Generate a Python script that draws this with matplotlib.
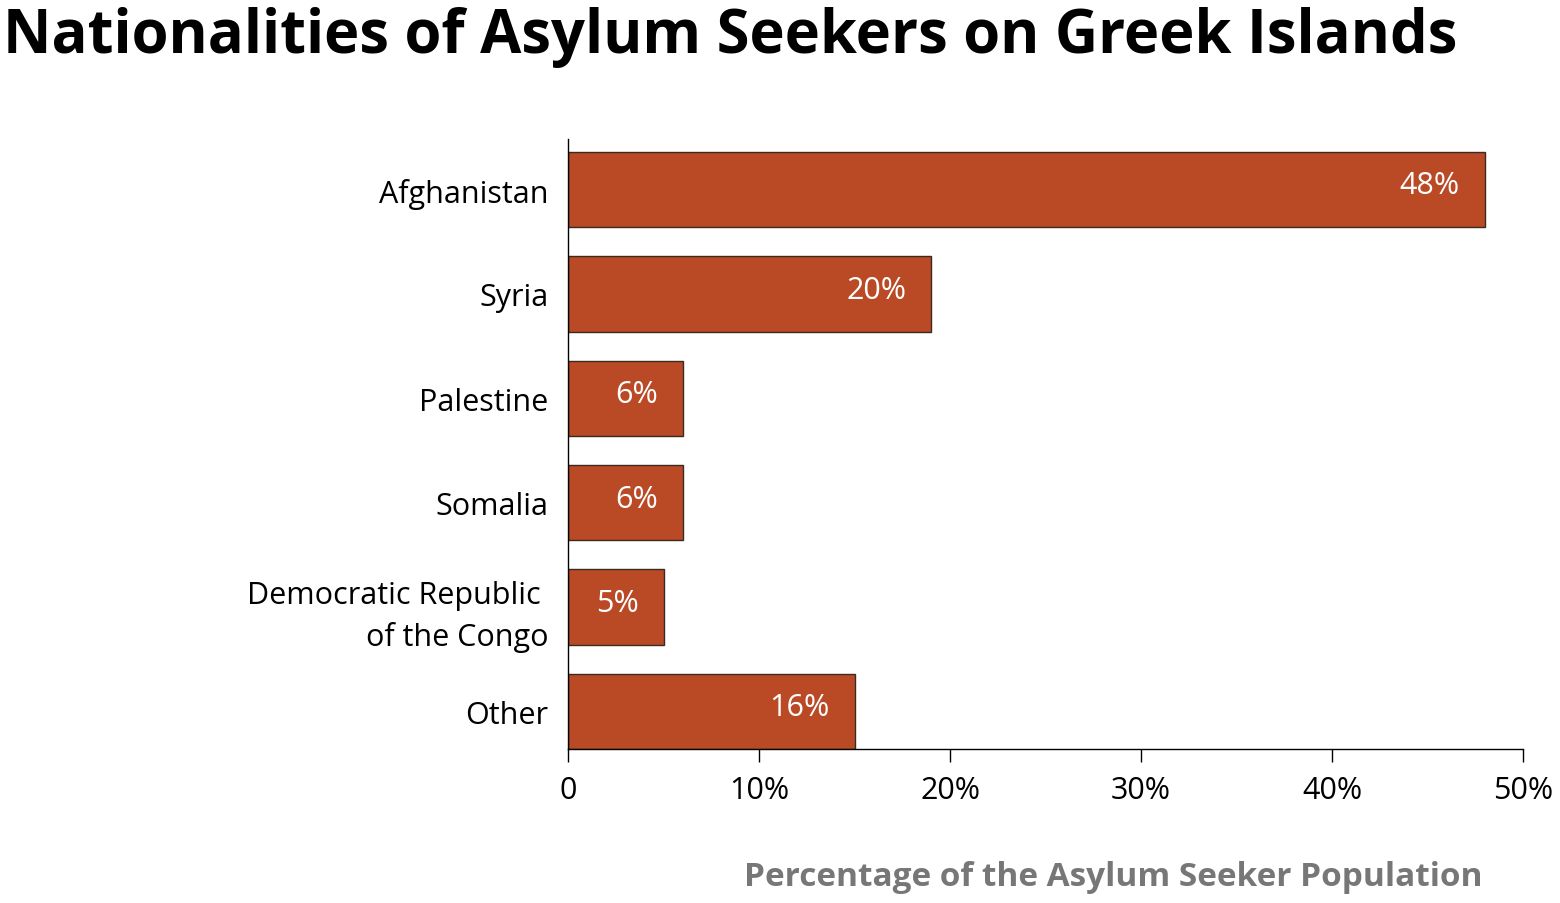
import matplotlib
matplotlib.use("Agg")
import matplotlib.pyplot as plt

categories = ["Afghanistan", "Syria", "Palestine", "Somalia", "Democratic Republic \nof the Congo", "Other"]
values = [48, 19, 6, 6, 5, 15]
labels = ["48%", "20%", "6%", "6%", "5%", "16%"]
ticks = [0, 10, 20, 30, 40, 50]
tick_labels = ["0", "10%", "20%", "30%", "40%", "50%"]

plt.rcParams['font.family'] = ['Open Sans', 'DejaVu Sans']
W, H = 1560, 904
fig = plt.figure(figsize=(W/100, H/100), dpi=100)
ax = fig.add_axes([568/W, 1-750/H, (1523-568)/W, (750-140)/H])
color = "#BA4A26"
y = list(range(len(categories)))
ax.barh(y, values, height=0.72, color=color, edgecolor="#3a2a20", linewidth=1)
for yi, v, l in zip(y, values, labels):
    ax.text(v - 1.3, yi - 0.04, l, ha="right", va="center", color="white", fontsize=22)
ax.set_ylim(5.36, -0.485)
ax.set_xlim(0, 50)
ax.set_yticks(y)
ax.set_yticklabels(categories, fontsize=22, linespacing=1.45)
ax.set_xticks(ticks)
ax.set_xticklabels(tick_labels, fontsize=22)
ax.tick_params(axis="y", length=0, pad=14)
ax.tick_params(axis="x", length=9, width=1, pad=10, direction="out")
for s in ["top", "right"]:
    ax.spines[s].set_visible(False)
ax.spines["left"].set_linewidth(1)
ax.spines["bottom"].set_linewidth(1)
fig.text(3/W, 1-38/H, "Nationalities of Asylum Seekers on Greek Islands", fontsize=43,
         fontweight="bold", va="center", ha="left")
fig.text(1482/W, 1-878/H, "Percentage of the Asylum Seeker Population", fontsize=24,
         fontweight="bold", color="#777777", ha="right", va="center")
fig.savefig("out.png", dpi=100)
